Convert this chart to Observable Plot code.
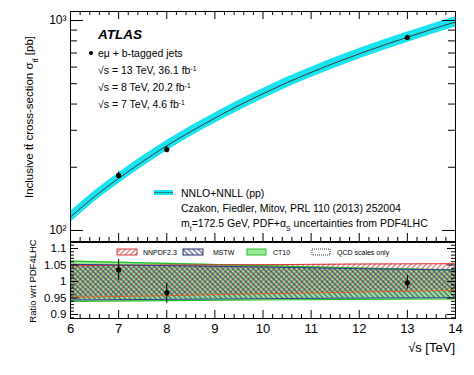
<!DOCTYPE html>
<html><head><meta charset="utf-8">
<script src="https://cdn.jsdelivr.net/npm/d3@7"></script>
<script src="https://cdn.jsdelivr.net/npm/@observablehq/plot@0.6"></script>
<style>
body{margin:0;background:#fff;}
#wrap{position:relative;width:474px;height:375px;font-family:"Liberation Sans",Arial,Helvetica,sans-serif;}
#wrap svg{position:absolute;left:0;overflow:visible;}
</style></head><body><div id="wrap"></div>
<script>
// Theory NNLO+NNLL (PDF4LHC) cross-section [pb]
const thE  = [6, 6.5, 7, 7.5, 8, 8.5, 9, 9.5, 10, 10.5, 11, 11.5, 12, 12.5, 13, 13.5, 14];
const thXS = [116, 145, 177, 213, 253, 296, 343, 394, 448, 506, 566, 629, 694, 762, 832, 907, 984];
const thLo = [109, 137, 167, 201, 239, 280, 324, 372, 423, 478, 535, 594, 656, 720, 786, 857, 930];
const thHi = [123, 154, 188, 226, 268, 314, 363, 417, 474, 536, 599, 666, 735, 807, 881, 960, 1042];
// ATLAS measurements
const measE  = [7, 8, 13];
const measXS = [182.9, 242.9, 830];
const measLo = [176, 234.5, 810];
const measHi = [190, 251.5, 850];
// Ratio panel
const ratE    = [6, 8, 10, 12, 14];
const ct10Lo  = [0.940, 0.942, 0.944, 0.946, 0.947];
const ct10Hi  = [1.062, 1.055, 1.048, 1.041, 1.035];
const nnpdfLo = [0.952, 0.957, 0.963, 0.968, 0.973];
const nnpdfHi = [1.048, 1.050, 1.051, 1.053, 1.054];
const mstwLo  = [0.944, 0.946, 0.948, 0.950, 0.951];
const mstwHi  = [1.052, 1.048, 1.044, 1.039, 1.035];
const ratVal  = [1.035, 0.966, 0.996];
const ratLo   = [1.003, 0.933, 0.977];
const ratHi   = [1.067, 0.995, 1.018];
// Tick labels
const xTicks = [6, 7, 8, 9, 10, 11, 12, 13, 14];
const yMainTicks = [100, 1000];
const yMainLabels = ["10²", "10³"];
const yMainMinor = [200, 300, 400, 500, 600, 700, 800, 900];
const ratioTicks = [0.9, 0.95, 1, 1.05, 1.1];
const ratioLabels = ["0.9", "0.95", "1", "1.05", "1.1"];

const FONT = '"Liberation Sans", Arial, Helvetica, sans-serif';
const xMinor = d3.range(6, 14.001, 0.2).filter(v => Math.abs(v - Math.round(v)) > 1e-6);
const rMinor = d3.range(0.89, 1.1101, 0.01).filter(v => !ratioTicks.some(t => Math.abs(t - v) < 1e-6));

const theory = thE.map((e, i) => ({e, xs: thXS[i], lo: thLo[i], hi: thHi[i]}));
const meas = measE.map((e, i) => ({e, xs: measXS[i], lo: measLo[i], hi: measHi[i]}));
const bands = ratE.map((e, i) => ({e, ctLo: ct10Lo[i], ctHi: ct10Hi[i], nnLo: nnpdfLo[i], nnHi: nnpdfHi[i], msLo: mstwLo[i], msHi: mstwHi[i]}));
const rpts = measE.map((e, i) => ({e, v: ratVal[i], lo: ratLo[i], hi: ratHi[i]}));

const wrap = document.getElementById("wrap");

// inward ticks drawn as short tick marks (ROOT style)
const PW = 474 - 70 - 19;          // plot-area width
const TH = 241 - 11 - 0;           // top plot-area height
const BH = 134 - 1 - 57;           // bottom plot-area height
const tB = (v, len, H) => Plot.tickX(v, {x: d => d, insetTop: H - len, stroke: "black", strokeWidth: 1});
const tT = (v, len, H) => Plot.tickX(v, {x: d => d, insetBottom: H - len, stroke: "black", strokeWidth: 1});
const tL = (v, len) => Plot.tickY(v, {y: d => d, insetRight: PW - len, stroke: "black", strokeWidth: 1});
const tR = (v, len) => Plot.tickY(v, {y: d => d, insetLeft: PW - len, stroke: "black", strokeWidth: 1});

const topPlot = Plot.plot({
  width: 474, height: 241,
  marginLeft: 70, marginRight: 19, marginTop: 11, marginBottom: 0,
  style: {fontFamily: FONT, fontSize: "12px", background: "transparent", color: "black", overflow: "visible"},
  x: {domain: [6, 14], axis: null},
  y: {type: "log", domain: [88.6, 1103.8]},
  marks: [
    Plot.areaY(theory, {x: "e", y1: "lo", y2: "hi", fill: "#17e4f0", curve: "natural"}),
    Plot.lineY(theory, {x: "e", y: "xs", stroke: "#3a3a3a", strokeWidth: 1, curve: "natural"}),
    Plot.ruleX(meas, {x: "e", y1: "lo", y2: "hi", stroke: "black", strokeWidth: 1}),
    Plot.dot(meas, {x: "e", y: "xs", r: 2.6, fill: "black"}),
    Plot.frame({stroke: "black", strokeWidth: 1}),
    tB(xTicks, 8, TH), tB(xMinor, 4, TH), tT(xTicks, 8, TH), tT(xMinor, 4, TH),
    tL(yMainTicks, 13), tL(yMainMinor, 7), tR(yMainTicks, 13), tR(yMainMinor, 7),
    Plot.axisY({anchor: "left", ticks: yMainTicks, tickSize: 0, tickPadding: 4, fontSize: 12,
      tickFormat: d => yMainLabels[yMainTicks.indexOf(d)], label: null})
  ]
});
topPlot.style.top = "0px";
wrap.appendChild(topPlot);

const botPlot = Plot.plot({
  width: 474, height: 134,
  marginLeft: 70, marginRight: 19, marginTop: 1, marginBottom: 57,
  style: {fontFamily: FONT, fontSize: "12px", background: "transparent", color: "black", overflow: "visible"},
  x: {domain: [6, 14]},
  y: {domain: [0.8879, 1.1182]},
  marks: [
    Plot.areaY(bands, {x: "e", y1: "ctLo", y2: "ctHi", fill: "#9ee89e"}),
    Plot.areaY(bands, {x: "e", y1: "nnLo", y2: "nnHi", fill: "url(#hatchRed)"}),
    Plot.areaY(bands, {x: "e", y1: "msLo", y2: "msHi", fill: "url(#hatchBlue)"}),
    Plot.lineY(bands, {x: "e", y: "ctHi", stroke: "#22c022", strokeWidth: 1.2}),
    Plot.lineY(bands, {x: "e", y: "ctLo", stroke: "#22c022", strokeWidth: 1.2}),
    Plot.lineY(bands, {x: "e", y: "nnHi", stroke: "#e03030", strokeWidth: 1}),
    Plot.lineY(bands, {x: "e", y: "nnLo", stroke: "#e05a20", strokeWidth: 1}),
    Plot.lineY(bands, {x: "e", y: "msHi", stroke: "#2a3a8a", strokeWidth: 1}),
    Plot.lineY(bands, {x: "e", y: "msLo", stroke: "#2a3a8a", strokeWidth: 1}),
    Plot.ruleX(rpts, {x: "e", y1: "lo", y2: "hi", stroke: "black", strokeWidth: 1}),
    Plot.dot(rpts, {x: "e", y: "v", r: 2.6, fill: "black"}),
    Plot.frame({stroke: "black", strokeWidth: 1}),
    tB(xTicks, 8, BH), tB(xMinor, 4, BH),
    tL(ratioTicks, 8), tL(rMinor, 4), tR(ratioTicks, 8), tR(rMinor, 4),
    Plot.axisX({anchor: "bottom", ticks: xTicks, tickSize: 0, tickPadding: 5, fontSize: 13,
      tickFormat: d => String(d), label: null}),
    Plot.axisY({anchor: "left", ticks: ratioTicks, tickSize: 0, tickPadding: 4, fontSize: 11.5,
      tickFormat: d => ratioLabels[ratioTicks.indexOf(d)], label: null})
  ]
});
botPlot.style.top = "241px";
wrap.appendChild(botPlot);

// Patterns for hatched bands
d3.select(botPlot).insert("defs", ":first-child").html(`
  <pattern id="hatchRed" patternUnits="userSpaceOnUse" width="3.6" height="3.6" patternTransform="rotate(45)">
    <line x1="1" y1="0" x2="1" y2="3.6" stroke="#b83838" stroke-width="0.9"/></pattern>
  <pattern id="hatchBlue" patternUnits="userSpaceOnUse" width="3.6" height="3.6" patternTransform="rotate(-45)">
    <line x1="1" y1="0" x2="1" y2="3.6" stroke="#1c2660" stroke-width="0.9"/></pattern>`);

// Rich text helper
function rich(svg, x, y, parts, o = {}) {
  const t = d3.select(svg).append("text")
    .attr("x", x).attr("y", y)
    .attr("font-family", FONT)
    .attr("font-size", o.size || 11)
    .attr("font-weight", o.weight || null)
    .attr("font-style", o.style || null)
    .attr("text-anchor", o.anchor || "start")
    .attr("fill", "black");
  if (o.rotate) t.attr("transform", `rotate(${o.rotate},${x},${y})`);
  for (const [s, k] of parts) {
    const ts = t.append("tspan").text(s);
    if (k === "sup") ts.attr("baseline-shift", "super").attr("font-size", "65%");
    if (k === "sub") ts.attr("baseline-shift", "sub").attr("font-size", "65%");
  }
  return t;
}

const T = topPlot;
rich(T, 98, 39, [["ATLAS"]], {size: 13.5, weight: "bold", style: "italic"});
d3.select(T).append("circle").attr("cx", 91).attr("cy", 53).attr("r", 2).attr("fill", "black");
rich(T, 98, 57, [["eμ + b-tagged jets"]], {size: 10.5});
rich(T, 98, 74, [["√s = 13 TeV, 36.1 fb"], ["-1", "sup"]], {size: 10.5});
rich(T, 98, 91, [["√s = 8 TeV, 20.2 fb"], ["-1", "sup"]], {size: 10.5});
rich(T, 98, 108, [["√s = 7 TeV, 4.6 fb"], ["-1", "sup"]], {size: 10.5});

d3.select(T).append("rect").attr("x", 154).attr("y", 190).attr("width", 19).attr("height", 5).attr("fill", "#17e4f0");
d3.select(T).append("line").attr("x1", 154).attr("x2", 173).attr("y1", 192.5).attr("y2", 192.5).attr("stroke", "#3a3a3a").attr("stroke-width", 0.6);
rich(T, 181, 197, [["NNLO+NNLL (pp)"]], {size: 10.5});
rich(T, 181, 212, [["Czakon, Fiedler, Mitov, PRL 110 (2013) 252004"]], {size: 10.5});
rich(T, 181, 227, [["m"], ["t", "sub"], ["=172.5 GeV, PDF+α"], ["S", "sub"], [" uncertainties from PDF4LHC"]], {size: 10.5});

rich(T, 33, 117, [["Inclusive tt\u0304 cross-section σ"], ["tt\u0304", "sub"], [" [pb]"]], {size: 11.5, anchor: "middle", rotate: -90});

const B = botPlot;
rich(B, 36, 40, [["Ratio wrt PDF4LHC"]], {size: 9.5, anchor: "middle", rotate: -90});
rich(B, 455, 111, [["√s [TeV]"]], {size: 13, anchor: "end"});

// ratio legend
const lg = d3.select(B);
const ly = 8, lh = 6;
lg.append("rect").attr("x", 117).attr("y", ly).attr("width", 20).attr("height", lh).attr("fill", "url(#hatchRed)").attr("stroke", "#d83a3a").attr("stroke-width", 1);
rich(B, 143, ly + 5.5, [["NNPDF2.3"]], {size: 7});
lg.append("rect").attr("x", 183).attr("y", ly).attr("width", 20).attr("height", lh).attr("fill", "url(#hatchBlue)").attr("stroke", "#24306e").attr("stroke-width", 1);
rich(B, 213, ly + 5.5, [["MSTW"]], {size: 7});
lg.append("rect").attr("x", 247).attr("y", ly).attr("width", 19).attr("height", lh).attr("fill", "#9ee89e").attr("stroke", "#22c022").attr("stroke-width", 1);
rich(B, 273, ly + 5.5, [["CT10"]], {size: 7});
lg.append("rect").attr("x", 312).attr("y", ly).attr("width", 18).attr("height", lh).attr("fill", "white").attr("stroke", "black").attr("stroke-width", 0.8).attr("stroke-dasharray", "1,1");
rich(B, 337, ly + 5.5, [["QCD scales only"]], {size: 7});
</script></body></html>
